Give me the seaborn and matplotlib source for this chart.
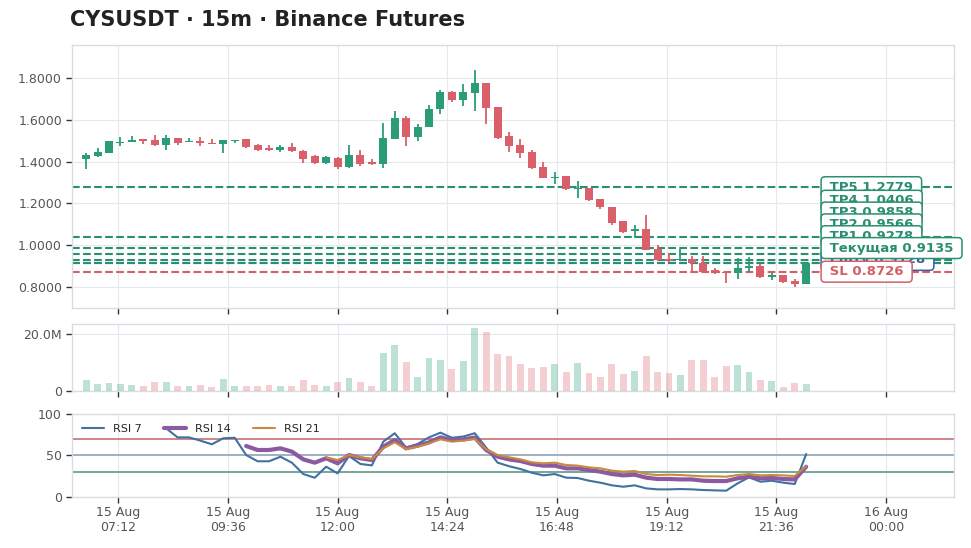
import numpy as np
import pandas as pd
import matplotlib
matplotlib.use("Agg")
import matplotlib.pyplot as plt
import matplotlib.dates as mdates
from matplotlib.ticker import MultipleLocator, FixedLocator, FuncFormatter
import seaborn as sns

# --- data ---
title = "CYSUSDT · 15m · Binance Futures"
start_time = "2025-08-15 06:30"
n_candles = 64

opens = [1.413, 1.427, 1.440, 1.490, 1.494, 1.509, 1.504, 1.480, 1.514, 1.494,
         1.499, 1.490, 1.485, 1.499, 1.509, 1.480, 1.466, 1.456, 1.470, 1.451,
         1.427, 1.392, 1.419, 1.376, 1.432, 1.400, 1.388, 1.509, 1.611, 1.520,
         1.565, 1.653, 1.733, 1.696, 1.728, 1.776, 1.661, 1.523, 1.480, 1.445,
         1.373, 1.320, 1.333, 1.268, 1.272, 1.220, 1.184, 1.116, 1.068, 1.076,
         0.980, 0.935, 0.929, 0.932, 0.916, 0.881, 0.873, 0.865, 0.889, 0.900,
         0.848, 0.857, 0.829, 0.813]
highs = [1.442, 1.466, 1.501, 1.518, 1.523, 1.511, 1.528, 1.528, 1.516, 1.514,
         1.518, 1.509, 1.506, 1.504, 1.511, 1.485, 1.480, 1.480, 1.490, 1.456,
         1.432, 1.427, 1.421, 1.480, 1.456, 1.413, 1.584, 1.643, 1.621, 1.579,
         1.672, 1.744, 1.739, 1.773, 1.840, 1.776, 1.661, 1.544, 1.509, 1.456,
         1.397, 1.349, 1.333, 1.309, 1.274, 1.220, 1.184, 1.116, 1.096, 1.144,
         1.001, 0.961, 0.980, 0.948, 0.948, 0.890, 0.873, 0.937, 0.942, 0.909,
         0.868, 0.857, 0.836, 0.9135]
lows = [1.365, 1.421, 1.440, 1.475, 1.494, 1.485, 1.475, 1.456, 1.480, 1.494,
        1.475, 1.485, 1.442, 1.490, 1.467, 1.451, 1.451, 1.446, 1.448, 1.394,
        1.390, 1.390, 1.364, 1.368, 1.381, 1.384, 1.368, 1.509, 1.477, 1.501,
        1.565, 1.627, 1.685, 1.669, 1.645, 1.581, 1.509, 1.448, 1.419, 1.364,
        1.320, 1.292, 1.264, 1.224, 1.212, 1.172, 1.096, 1.059, 1.033, 0.977,
        0.924, 0.920, 0.925, 0.870, 0.865, 0.861, 0.817, 0.836, 0.873, 0.842,
        0.833, 0.820, 0.801, 0.813]
closes = [1.432, 1.446, 1.499, 1.494, 1.504, 1.499, 1.480, 1.514, 1.490, 1.499,
          1.490, 1.485, 1.504, 1.504, 1.470, 1.456, 1.456, 1.470, 1.451, 1.413,
          1.394, 1.421, 1.376, 1.432, 1.389, 1.388, 1.512, 1.608, 1.520, 1.568,
          1.651, 1.733, 1.696, 1.733, 1.776, 1.656, 1.515, 1.477, 1.440, 1.368,
          1.320, 1.325, 1.268, 1.274, 1.216, 1.181, 1.107, 1.064, 1.077, 0.977,
          0.929, 0.925, 0.935, 0.913, 0.870, 0.868, 0.865, 0.889, 0.901, 0.846,
          0.857, 0.825, 0.813, 0.9135]
volumes_m = [3.8, 2.4, 2.7, 2.4, 2.0, 1.7, 3.1, 3.1, 1.7, 1.7,
             2.0, 1.3, 4.1, 1.7, 1.7, 1.7, 2.0, 1.7, 1.7, 3.8,
             2.0, 1.7, 3.1, 4.5, 3.1, 1.7, 13.3, 16.2, 10.2, 4.9,
             11.5, 10.9, 7.7, 10.5, 22.1, 20.8, 13.0, 12.3, 9.5, 8.0,
             8.4, 9.5, 6.6, 9.8, 6.3, 4.8, 9.5, 5.9, 7.0, 12.3,
             6.6, 6.3, 5.6, 10.9, 10.9, 4.8, 8.7, 9.1, 6.6, 3.8,
             3.4, 1.3, 2.7, 2.4]

rsi7_start = 7
rsi7 = [83, 72, 72, 68, 63.6, 70.9, 71.5, 50.6, 43, 43, 48.5, 41.3, 27.5, 23,
        36.4, 28.3, 49.4, 39.7, 38, 66.8, 77, 59.5, 64, 72, 77.7, 71.5, 73, 77,
        59.5, 41.3, 37, 33.6, 29.1, 25.9, 27.5, 23.1, 22.7, 19.4, 17, 13.8, 12.1,
        13.8, 10.1, 8.9, 8.9, 9.3, 8.9, 8.1, 7.7, 7.3, 16.2, 23.5, 18.2, 19.4, 17,
        15.4, 51.8]
rsi14_start = 14
rsi14 = [61.5, 56.7, 56.7, 58.7, 54.7, 45.3, 41.3, 46.6, 40.5, 50.6, 46.6, 44.5,
         60.7, 68.8, 58.7, 61.9, 66, 72, 68.8, 69.6, 71.7, 56.7, 48.6, 45.3, 43.3,
         39.7, 37.7, 37.7, 34.4, 34.4, 32.4, 30.4, 27.5, 25.9, 26.7, 23.1, 21.5,
         21.5, 21, 21, 19.4, 19, 19, 22.3, 24.3, 22.3, 22.7, 21.5, 21, 36.4]
rsi21_start = 21
rsi21 = [47.8, 44.5, 50.6, 47.8, 45.7, 58.7, 66, 57.9, 60.7, 64.8, 69.6, 66.8, 68,
         70, 57.5, 50.6, 47.8, 45.3, 41.7, 40.5, 41.3, 38.5, 37.7, 35.6, 34.4, 31.6,
         30.4, 31.2, 27.5, 26.3, 26.7, 26.3, 25.5, 24.7, 24.7, 24.3, 26.3, 27.5,
         25.9, 26.3, 25.9, 25.1, 37.2]

level_names = ["SL", "Entry", "Текущая", "TP1", "TP2", "TP3", "TP4", "TP5"]
level_values = [0.8726, 0.9128, 0.9135, 0.9278, 0.9566, 0.9858, 1.0406, 1.2779]

# --- colours ---
up_col = "#2a9d78"
down_col = "#d9606a"
tp_col = "#2a8f70"
sl_col = "#d45f68"
entry_col = "#3d5c9e"
level_colors = [sl_col, entry_col, tp_col, tp_col, tp_col, tp_col, tp_col, tp_col]

sns.set_theme(style="whitegrid", rc={
    "axes.edgecolor": "#d6dde4",
    "axes.linewidth": 1.0,
    "grid.color": "#e4e9ee",
    "grid.linewidth": 0.8,
    "xtick.bottom": True,
    "ytick.left": True,
    "xtick.major.size": 4,
    "ytick.major.size": 4,
    "xtick.major.width": 1,
    "ytick.major.width": 1,
    "xtick.color": "#333333",
    "ytick.color": "#333333",
    "xtick.labelcolor": "#555555",
    "ytick.labelcolor": "#555555",
    "xtick.labelsize": 9,
    "ytick.labelsize": 9,
})
plt.rcParams["font.family"] = ["DejaVu Sans"]

times = pd.date_range(start_time, periods=n_candles, freq="15min")
x = mdates.date2num(times.to_numpy())
step = 1 / 96  # 15 minutes in days

o = np.array(opens)
h = np.array(highs)
l = np.array(lows)
c = np.array(closes)
up = c >= o
colors = np.where(up, up_col, down_col)

fig = plt.figure(figsize=(9.71, 5.48), dpi=100)
ax = fig.add_axes([0.0738, 0.4374, 0.9087, 0.4805])
ax_vol = fig.add_axes([0.0738, 0.2865, 0.9087, 0.1217], sharex=ax)
ax_rsi = fig.add_axes([0.0738, 0.0936, 0.9087, 0.1504], sharex=ax)

# candles
ax.vlines(x, l, h, colors=colors, linewidth=1.3, zorder=3)
body = np.maximum(np.abs(c - o), 0.004)
ax.bar(x, body, bottom=np.minimum(o, c), width=step * 0.7, color=colors,
       linewidth=0, zorder=4)

# level lines + stacked labels
for val, col in zip(level_values, level_colors):
    ax.axhline(val, color=col, linestyle="--", linewidth=1.5, zorder=2)

min_gap = 0.0567
label_y = []
prev = -np.inf
for val in level_values:
    y = max(val, prev + min_gap)
    label_y.append(y)
    prev = y

draw_order = {"TP5": 5, "TP4": 6, "TP3": 7, "TP2": 8, "TP1": 9,
              "Entry": 10, "SL": 11, "Текущая": 12}
label_x = x[-1] + 1.65 * step
for name, val, y, col in zip(level_names, level_values, label_y, level_colors):
    ax.text(label_x, y, f" {name} {val:.4f} ", color=col, fontsize=9.5,
            fontweight="bold", ha="left", va="center", zorder=draw_order[name],
            bbox=dict(boxstyle="round,pad=0.3", facecolor="white",
                      edgecolor=col, linewidth=1.1))

ax.set_ylim(0.697, 1.960)
ax.yaxis.set_major_locator(MultipleLocator(0.2))
ax.yaxis.set_major_formatter(FuncFormatter(lambda v, p: f"{v:.4f}"))

# volume
vol = np.array(volumes_m) * 1e6
ax_vol.bar(x, vol, width=step * 0.6, color=colors, alpha=0.3, linewidth=0,
           zorder=3)
ax_vol.set_ylim(0, 23.5e6)
ax_vol.yaxis.set_major_locator(FixedLocator([0, 20e6]))
ax_vol.yaxis.set_major_formatter(
    FuncFormatter(lambda v, p: "0" if v == 0 else f"{v / 1e6:.1f}M"))

# RSI
for ref, col in [(70, "#c97b80"), (50, "#98adbb"), (30, "#6a9f92")]:
    ax_rsi.axhline(ref, color=col, linewidth=1.3, zorder=2)

rsi_sets = [("RSI 7", rsi7, rsi7_start, "#3f72a0", 1.5),
            ("RSI 14", rsi14, rsi14_start, "#8c5aa0", 3.0),
            ("RSI 21", rsi21, rsi21_start, "#c88a3c", 1.5)]
for name, vals, s, col, lw in rsi_sets:
    df = pd.DataFrame({"t": x[s:s + len(vals)], "rsi": vals})
    sns.lineplot(data=df, x="t", y="rsi", ax=ax_rsi, color=col, linewidth=lw,
                 label=name, zorder=3)
ax_rsi.set_ylim(0, 100)
ax_rsi.yaxis.set_major_locator(FixedLocator([0, 50, 100]))
ax_rsi.legend(loc="upper left", ncol=3, frameon=False, fontsize=8)
ax_rsi.set_xlabel("")
ax_rsi.set_ylabel("")

# shared time axis
ax_rsi.set_xlim(mdates.date2num(pd.Timestamp("2025-08-15 06:11")),
                mdates.date2num(pd.Timestamp("2025-08-16 01:29")))
ax_rsi.xaxis.set_major_locator(MultipleLocator(0.1))
ax_rsi.xaxis.set_major_formatter(mdates.DateFormatter("%d %b\n%H:%M"))
for a in (ax, ax_vol):
    a.tick_params(labelbottom=False)
for a in (ax, ax_vol, ax_rsi):
    a.set_axisbelow(True)
    a.tick_params(axis="both", pad=3)

fig.text(0.0721, 0.9635, title, fontsize=15, fontweight="bold",
         color="#222222", ha="left", va="center")

fig.savefig("out.png", dpi=100)
